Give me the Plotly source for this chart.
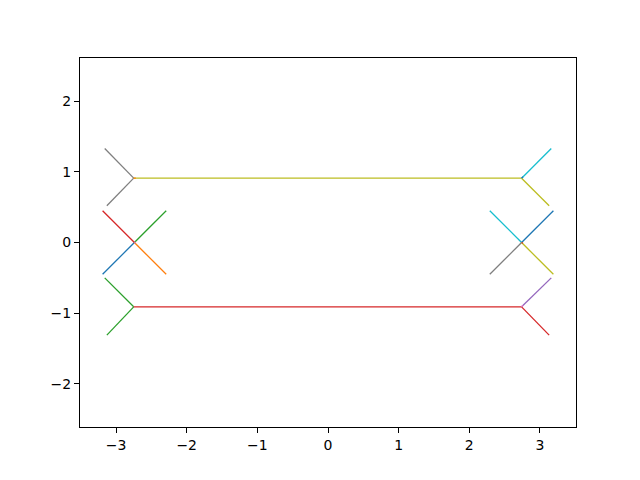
import plotly.graph_objects as go

# segment end points (data units), one entry per drawn line
seg_x0 = [-3.19, -2.74, -2.74, -3.19, -3.16, -2.75, -3.16, -2.75, -2.75, -2.75,
          2.74, 2.74, 2.29, 2.29, 2.74, 2.74, 2.74, 2.74,
          -2.75, -2.74, 2.74, 2.74, 2.74]
seg_y0 = [-0.45, 0.0, 0.0, 0.45, -0.50, -0.91, 1.33, 0.91, 0.91, -0.91,
          0.91, 0.91, 0.45, -0.45, 0.0, 0.0, -0.91, -0.91,
          0.91, 0.0, 0.0, 0.91, -0.91]
seg_x1 = [-2.74, -2.29, -2.29, -2.74, -2.75, -3.13, -2.75, -3.13, 2.74, 2.74,
          3.16, 3.13, 2.74, 2.74, 3.19, 3.19, 3.16, 3.13,
          -2.72, -2.72, 2.76, 2.76, 2.76]
seg_y1 = [0.0, -0.45, 0.45, 0.0, -0.91, -1.31, 0.91, 0.52, 0.91, -0.91,
          1.33, 0.52, 0.0, 0.0, 0.45, -0.45, -0.50, -1.31,
          0.91, 0.0, -0.01, 0.93, -0.89]

seg_colors = ["#1f77b4", "#ff7f0e", "#2ca02c", "#d62728", "#2ca02c", "#2ca02c",
              "#7f7f7f", "#7f7f7f", "#bcbd22", "#d62728",
              "#17becf", "#bcbd22", "#17becf", "#7f7f7f", "#1f77b4", "#bcbd22",
              "#9467bd", "#d62728",
              "#ff7f0e", "#e377c2", "#d62728", "#1f77b4", "#e377c2"]

fig = go.Figure()
for x0, y0, x1, y1, c in zip(seg_x0, seg_y0, seg_x1, seg_y1, seg_colors):
    fig.add_trace(go.Scatter(x=[x0, x1], y=[y0, y1], mode="lines",
                             line=dict(color=c, width=1.3), showlegend=False,
                             hoverinfo="skip"))

axis_style = dict(showgrid=False, zeroline=False, showline=True, mirror=True,
                  linecolor="black", linewidth=1, ticks="outside", ticklen=5,
                  tickcolor="black", tickfont=dict(size=14, color="black"))

# page body adds an 8px offset, so the figure is sized to fit inside the window
fig.update_layout(
    width=632, height=472,
    margin=dict(l=72, r=64, t=50, b=53),
    paper_bgcolor="white", plot_bgcolor="white",
    font=dict(family="DejaVu Sans"),
    xaxis=dict(range=[-3.51, 3.51], tickvals=[-3, -2, -1, 0, 1, 2, 3], **axis_style),
    yaxis=dict(range=[-2.61, 2.61], tickvals=[-2, -1, 0, 1, 2], **axis_style),
)

fig.write_html("out.html")
